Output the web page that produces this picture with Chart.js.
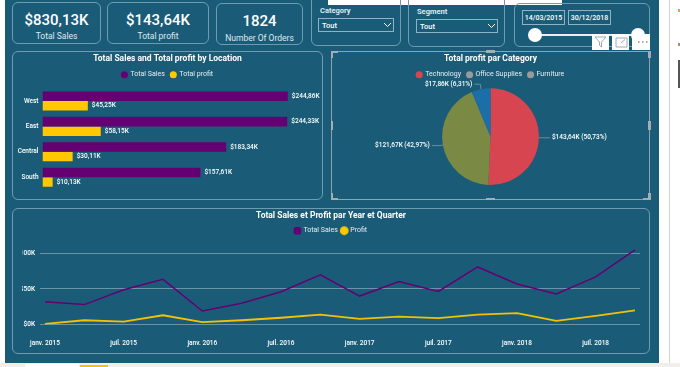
<!DOCTYPE html>
<html><head><meta charset="utf-8">
<script src="https://cdn.jsdelivr.net/npm/chart.js@4/dist/chart.umd.min.js"></script>
<style>
html,body{margin:0;padding:0;background:#fff;width:680px;height:367px;overflow:hidden;font-family:Roboto,sans-serif}
#dash{position:absolute;left:5px;top:0;width:654px;height:363px;background:#1a5c78}
.abs{position:absolute;box-sizing:border-box}
.card{border:1px solid #6f9bb0;border-radius:6px}
.box{border:1px solid #8fb3c4;color:#fff;font-size:7.5px;font-weight:500}
.t{position:absolute;color:#fff;white-space:nowrap;text-align:center}
.h{position:absolute;background:#a3aeb3}
canvas{position:absolute}
</style></head><body>
<div id="dash"></div>
<div class="abs" style="left:328px;top:0;width:234px;height:5px;background:#fff"></div>

<div class="abs card" style="left:12px;top:2px;width:89px;height:42px"></div>
<div class="t" style="left:12px;width:89px;top:11px;font-size:15px;font-weight:500">$830,13K</div>
<div class="t" style="left:12px;width:89px;top:31px;font-size:8.5px;color:#dfe9ee">Total Sales</div>
<div class="abs card" style="left:107px;top:2px;width:102px;height:42px"></div>
<div class="t" style="left:107px;width:102px;top:11px;font-size:15px;font-weight:500">$143,64K</div>
<div class="t" style="left:107px;width:102px;top:31px;font-size:8.5px;color:#dfe9ee">Total profit</div>
<div class="abs card" style="left:216px;top:3px;width:87px;height:42px"></div>
<div class="t" style="left:216px;width:87px;top:12px;font-size:15px;font-weight:500">1824</div>
<div class="t" style="left:216px;width:87px;top:33px;font-size:8.5px;color:#dfe9ee">Number Of Orders</div>

<div class="abs card" style="left:311px;top:-6px;width:90px;height:52px"></div>
<div class="t" style="left:320px;top:6px;font-size:7.5px;font-weight:700;color:#dfe9ee">Category</div>
<div class="abs box" style="left:318px;top:18px;width:76px;height:14px;padding:2px 3px">Tout</div>
<svg class="abs" style="left:383px;top:22px" width="9" height="6"><path d="M1 1l3.5 3.5L8 1" stroke="#fff" stroke-width="1" fill="none"/></svg>

<div class="abs card" style="left:408px;top:-6px;width:97px;height:53px"></div>
<div class="t" style="left:417px;top:7px;font-size:7.5px;font-weight:700;color:#dfe9ee">Segment</div>
<div class="abs box" style="left:416px;top:19px;width:82px;height:14px;padding:2px 3px">Tout</div>
<svg class="abs" style="left:487px;top:23px" width="9" height="6"><path d="M1 1l3.5 3.5L8 1" stroke="#fff" stroke-width="1" fill="none"/></svg>

<div class="abs card" style="left:514px;top:3px;width:136px;height:44px"></div>
<div class="abs box" style="left:522px;top:10px;width:43px;height:15px;text-align:center;padding-top:2.5px;font-size:7px">14/03/2015</div>
<div class="abs box" style="left:568px;top:10px;width:43px;height:15px;text-align:center;padding-top:2.5px;font-size:7px">30/12/2018</div>
<div class="abs" style="left:535px;top:34px;width:103px;height:2px;background:#e8eef1"></div>
<div class="abs" style="left:528px;top:28px;width:14px;height:14px;border-radius:7px;background:#fff"></div>
<div class="abs" style="left:631px;top:28px;width:14px;height:14px;border-radius:7px;background:#fff"></div>

<div class="abs card" style="left:12px;top:51px;width:311px;height:149px"></div>
<div class="abs" style="left:331px;top:51px;width:319px;height:149px;border:1px solid #8fa3ad"></div>
<div class="abs card" style="left:12px;top:208px;width:638px;height:146px"></div>

<canvas id="bar" style="left:12px;top:51px" width="311" height="149"></canvas>
<canvas id="pie" style="left:331px;top:51px" width="319" height="149"></canvas>
<canvas id="line" style="left:12px;top:208px" width="638" height="146"></canvas>

<div class="h" style="left:331px;top:51px;width:2px;height:7px"></div>
<div class="h" style="left:331px;top:51px;width:7px;height:2px"></div>
<div class="h" style="left:331px;top:193px;width:2px;height:7px"></div>
<div class="h" style="left:331px;top:198px;width:7px;height:2px"></div>
<div class="h" style="left:648px;top:51px;width:3px;height:7px"></div>
<div class="h" style="left:648px;top:193px;width:3px;height:7px"></div>
<div class="h" style="left:643px;top:198px;width:7px;height:2px"></div>
<div class="h" style="left:331px;top:121px;width:2px;height:9px"></div>
<div class="h" style="left:648px;top:121px;width:3px;height:9px"></div>
<div class="h" style="left:486px;top:50px;width:9px;height:3px"></div>
<div class="h" style="left:486px;top:198px;width:9px;height:2px"></div>

<div class="abs" style="left:592px;top:34px;width:17px;height:16px;background:#fff"></div>
<div class="abs" style="left:612px;top:34px;width:17px;height:16px;background:#fff"></div>
<div class="abs" style="left:632px;top:34px;width:18px;height:16px;background:#fff"></div>
<svg class="abs" style="left:592px;top:34px" width="58" height="16" fill="none" stroke="#8a9499" stroke-width=".8">
<path d="M3 3h11l-4.5 5v5l-2-1.5V8z"/><path d="M24 4h11v9H24z"/><path d="M29 9l4-3.5"/>
<path d="M46 8h1.5M50 8h1.5M54 8h1.5" stroke="#555" stroke-width="1.2"/></svg>

<div class="abs" style="left:669px;top:0;width:1px;height:363px;background:#d4d4d4"></div>
<div class="abs" style="left:678px;top:9px;width:2px;height:3px;background:#d9a441"></div>
<div class="abs" style="left:678px;top:43px;width:2px;height:3px;background:#9a8f7a"></div>
<div class="abs" style="left:678px;top:60px;width:2px;height:28px;background:#555"></div>
<div class="abs" style="left:0;top:363px;width:680px;height:4px;background:#f1efec"></div>
<div class="abs" style="left:25px;top:364px;width:54px;height:3px;background:#fff"></div>
<div class="abs" style="left:80px;top:365px;width:28px;height:2px;background:#f5c400"></div>

<script>
const locations = ["West","East","Central","South"];
const locationSales = [244.86,244.33,183.34,157.61];
const locationProfit = [45.25,58.15,30.11,10.13];

const categories = ["Technology","Office Supplies","Furniture"];
const categoryProfit = [143.64,121.67,17.86];
const categoryPct = [50.73,42.97,6.31];
const categoryColors = ["#d64550","#7a8a45","#1b6ea8"];
const categoryLegendColors = ["#d64550","#9a9a9a","#9a9a9a"];

const quarters = ["janv. 2015","avr. 2015","juil. 2015","oct. 2015","janv. 2016","avr. 2016","juil. 2016","oct. 2016","janv. 2017","avr. 2017","juil. 2017","oct. 2017","janv. 2018","avr. 2018","juil. 2018","oct. 2018"];
const quarterSales = [32,28,49,63.5,19,30,46,70,40,60.5,46.6,81,57,43,67,105];
const quarterProfit = [1,6,4,13,3.4,6,9.5,14,8,11,9,14,16,5,12,20];

const PURPLE="#650072", YELLOW="#ffc800", WHITE="#ffffff";
const FONT="Roboto, sans-serif";
const money = v => "$"+v.toFixed(2).replace(".",",")+"K";
const pct = v => v.toFixed(2).replace(".",",")+"%";
Chart.defaults.font.family=FONT;
Chart.defaults.color=WHITE;
Chart.defaults.animation=false;
Chart.defaults.responsive=false;

const titleOpts = (text,bottom)=>({display:true,text,color:WHITE,font:{size:8.5,weight:"bold",family:FONT},padding:{top:3,bottom}});

const barLabels={id:"barLabels",afterDatasetsDraw(c){
  const x=c.ctx;x.save();x.fillStyle=WHITE;x.font="500 6.5px "+FONT;x.textBaseline="middle";x.textAlign="left";
  c.data.datasets.forEach((d,i)=>c.getDatasetMeta(i).data.forEach((el,j)=>x.fillText(money(d.data[j]),el.x+4,el.y)));
  x.restore();}};

new Chart(document.getElementById("bar"),{type:"bar",plugins:[barLabels],
 data:{labels:locations,datasets:[
  {label:"Total Sales",data:locationSales,backgroundColor:PURPLE,categoryPercentage:.75,barPercentage:1},
  {label:"Total profit",data:locationProfit,backgroundColor:YELLOW,categoryPercentage:.75,barPercentage:1}]},
 options:{indexAxis:"y",layout:{padding:{bottom:10}},
  plugins:{title:titleOpts("Total Sales and Total profit by Location",1),
   legend:{labels:{usePointStyle:true,pointStyle:"circle",boxWidth:5,boxHeight:5,font:{size:7},color:"#e6eef2",padding:6}},
   tooltip:{enabled:false}},
  scales:{x:{display:false,min:0,max:280},
   y:{grid:{display:false,drawTicks:false},border:{display:false},afterFit(s){s.width=30.5},ticks:{color:WHITE,padding:4,font:{size:6.5,weight:"500"}}}}}});

const pieLabels={id:"pieLabels",afterDatasetsDraw(c){
  const x=c.ctx,meta=c.getDatasetMeta(0);x.save();x.font="500 6.5px "+FONT;x.textBaseline="middle";
  meta.data.forEach((el,i)=>{
    const a=(el.startAngle+el.endAngle)/2,r=el.outerRadius;
    const px=el.x+Math.cos(a)*r,py=el.y+Math.sin(a)*r;
    const right=Math.cos(a)>0;
    const ex=el.x+Math.cos(a)*(r+3),ey=el.y+Math.sin(a)*(r+3)-(i===2?2:0);
    const hx=right?ex+8:ex-(i===2?6:8);
    x.strokeStyle="#7fa3b4";x.lineWidth=.7;x.beginPath();x.moveTo(px,py);x.lineTo(ex,ey);x.lineTo(hx,ey);x.stroke();
    x.fillStyle=WHITE;x.textAlign=right?"left":"right";
    x.fillText(money(categoryProfit[i])+" ("+pct(categoryPct[i])+")",hx+(right?2:-2),ey);
  });x.restore();}};

new Chart(document.getElementById("pie"),{type:"pie",plugins:[pieLabels],
 data:{labels:categories,datasets:[{data:categoryProfit,backgroundColor:categoryColors,borderWidth:0}]},
 options:{layout:{padding:{bottom:15}},
  plugins:{title:titleOpts("Total profit par Category",1),
   legend:{labels:{usePointStyle:true,pointStyle:"circle",boxWidth:5,boxHeight:5,font:{size:7},color:"#e6eef2",padding:6,
    generateLabels(c){return categories.map((t,i)=>({text:t,fillStyle:categoryLegendColors[i],strokeStyle:categoryLegendColors[i],lineWidth:0,pointStyle:"circle",fontColor:"#e6eef2",index:i}))}}},
   tooltip:{enabled:false}}}});

new Chart(document.getElementById("line"),{type:"line",
 data:{datasets:[
  {label:"Total Sales",data:quarterSales.map((y,x)=>({x,y})),borderColor:PURPLE,backgroundColor:PURPLE,borderWidth:1.5,pointRadius:0,pointStyle:"rectRounded",tension:0},
  {label:"Profit",data:quarterProfit.map((y,x)=>({x,y})),borderColor:"#f2c200",backgroundColor:YELLOW,borderWidth:1.8,pointRadius:0,pointStyle:"circle",tension:0}]},
 options:{layout:{padding:{left:10,right:10}},
  plugins:{title:titleOpts("Total Sales et Profit par Year et Quarter",2),
   legend:{labels:{usePointStyle:true,boxWidth:5,boxHeight:5,font:{size:7},color:"#e6eef2",padding:4}},
   tooltip:{enabled:false}},
  scales:{
   x:{type:"linear",min:-0.127,max:15.127,grid:{display:false,drawTicks:false},border:{display:false},
      afterFit(s){s.height=29.5},
      ticks:{stepSize:2,includeBounds:false,padding:15,maxRotation:0,autoSkip:false,font:{size:6.5,weight:"500"},color:WHITE,callback:v=>quarters[v]||""}},
   y:{min:0,max:113,border:{display:false},afterFit(s){s.width=18},
      grid:{color:"rgba(255,255,255,.35)",lineWidth:1,borderDash:[1,3],drawTicks:false},
      ticks:{stepSize:50,includeBounds:false,padding:5,font:{size:6.5,weight:"500"},color:WHITE,callback:v=>"$"+v+"K"}}}}});
</script>
</body></html>
